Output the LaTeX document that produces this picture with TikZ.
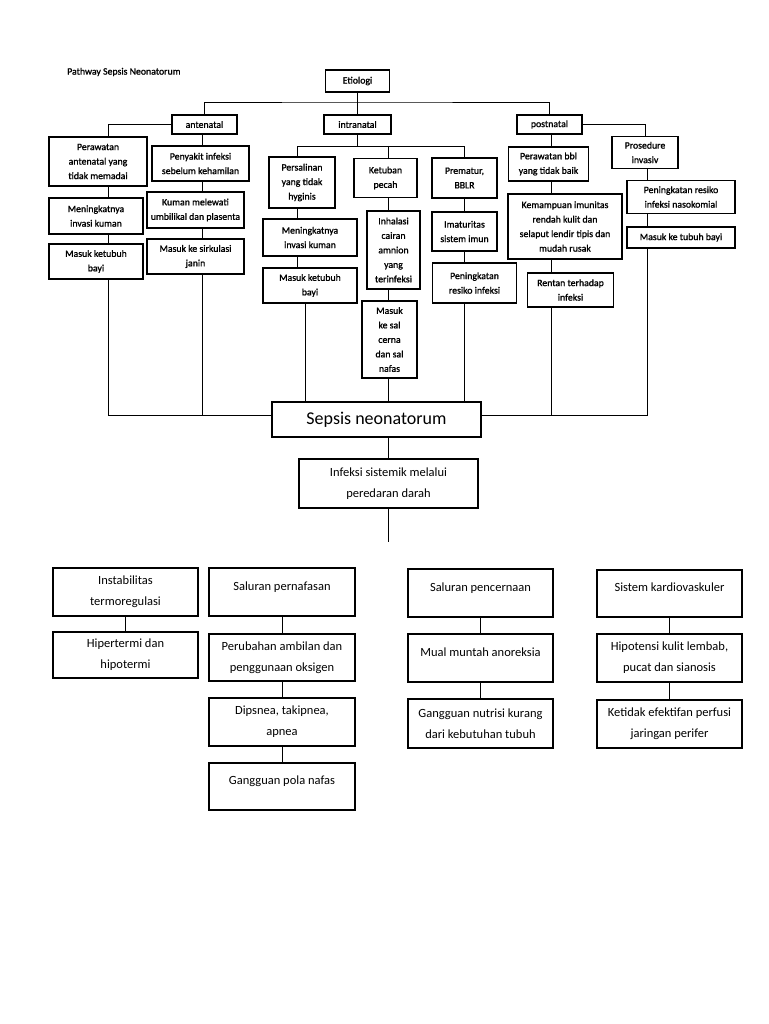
\documentclass[tikz,border=0pt]{standalone}
\usepackage{fontspec}
\setmainfont{Carlito}
\newfontfamily\tebal[FakeBold=1.2]{Carlito}
\begin{document}
\begin{tikzpicture}[x=1pt,y=-1pt,
	kotak/.style={draw,line width=1.5pt,align=center,inner sep=1pt,font=\tebal\fontsize{9.8}{14.5}\selectfont},
	kotakbesar/.style={draw,line width=1.5pt,align=center,inner sep=1pt,font=\fontsize{12.5}{21}\selectfont},
	naik/.style={text depth=12pt},
	garis/.style={line width=0.8pt}]
	\useasboundingbox (0,0) rectangle (768,1024);
	\node[anchor=west,inner sep=0pt,font=\tebal\fontsize{9.8}{12}\selectfont] (judul) at (67,72) {Pathway Sepsis Neonatorum};
	% etiologi
	\node[kotak,minimum width=64,minimum height=22] (etiologi) at (357.5,81) {Etiologi};
	\node[kotak,minimum width=65,minimum height=19] (ante) at (204.5,124.5) {antenatal};
	\node[kotak,minimum width=67,minimum height=19] (intra) at (357.5,124.5) {intranatal};
	\node[kotak,minimum width=65,minimum height=19] (post) at (549.5,124.5) {postnatal};
	% antenatal
	\node[kotak,minimum width=98,minimum height=49] (pa1) at (98,161.5) {Perawatan\\antenatal yang\\tidak memadai};
	\node[kotak,minimum width=94,minimum height=36] (pa2) at (96,216) {Meningkatnya\\invasi kuman};
	\node[kotak,minimum width=94,minimum height=35] (pa3) at (96,261.5) {Masuk ketubuh\\bayi};
	\node[kotak,minimum width=97,minimum height=35] (pb1) at (200.5,163.5) {Penyakit infeksi\\sebelum kehamilan};
	\node[kotak,minimum width=97,minimum height=36] (pb2) at (195.5,210) {Kuman melewati\\umbilikal dan plasenta};
	\node[kotak,minimum width=97,minimum height=35] (pb3) at (195.5,256.5) {Masuk ke sirkulasi\\janin};
	% intranatal
	\node[kotak,minimum width=66,minimum height=51] (pc1) at (302,182.5) {Persalinan\\yang tidak\\hyginis};
	\node[kotak,minimum width=94,minimum height=37] (pc2) at (310,237.5) {Meningkatnya\\invasi kuman};
	\node[kotak,minimum width=94,minimum height=35] (pc3) at (310,285.5) {Masuk ketubuh\\bayi};
	\node[kotak,minimum width=63,minimum height=39] (pd1) at (385.5,178) {Ketuban\\pecah};
	\node[kotak,minimum width=53,minimum height=78] (pd2) at (393.5,250) {Inhalasi\\cairan\\amnion\\yang\\terinfeksi};
	\node[kotak,minimum width=55,minimum height=77] (pd3) at (389.5,339.5) {Masuk\\ke sal\\cerna\\dan sal\\nafas};
	\node[kotak,minimum width=65,minimum height=40] (pe1) at (464.5,178) {Prematur,\\BBLR};
	\node[kotak,minimum width=65,minimum height=39] (pe2) at (464.5,231.5) {Imaturitas\\sistem imun};
	\node[kotak,minimum width=84,minimum height=40] (pe3) at (474.5,283) {Peningkatan\\resiko infeksi};
	% postnatal
	\node[kotak,minimum width=80,minimum height=34] (pf1) at (548.5,164) {Perawatan bbl\\yang tidak baik};
	\node[kotak,minimum width=114,minimum height=65] (pf2) at (565,226.5) {Kemampuan imunitas\\rendah kulit dan\\selaput lendir tipis dan\\mudah rusak};
	\node[kotak,minimum width=86,minimum height=34] (pf3) at (570.5,290) {Rentan terhadap\\infeksi};
	\node[kotak,minimum width=66,minimum height=32] (pg1) at (645,152.5) {Prosedure\\invasiv};
	\node[kotak,minimum width=108,minimum height=33] (pg2) at (681,197) {Peningkatan resiko\\infeksi nasokomial};
	\node[kotak,minimum width=108,minimum height=21] (pg3) at (681,237.5) {Masuk ke tubuh bayi};
	% sepsis
	\node[draw,line width=1.5pt,minimum width=209,minimum height=35,inner sep=1pt,font=\fontsize{18}{22}\selectfont] (sepsis) at (376.5,419.5) {Sepsis neonatorum};
	\node[kotakbesar,minimum width=179,minimum height=49] (infeksi) at (388.5,483.5) {Infeksi sistemik melalui\\peredaran darah};
	% bawah
	\node[kotakbesar,minimum width=145,minimum height=48] (inst) at (125.5,592) {Instabilitas\\termoregulasi};
	\node[kotakbesar,minimum width=145,minimum height=46] (hiper) at (125.5,655) {Hipertermi dan\\hipotermi};
	\node[kotakbesar,naik,minimum width=146,minimum height=48] (salnaf) at (282,592) {Saluran pernafasan};
	\node[kotakbesar,minimum width=146,minimum height=47] (perub) at (282,657.5) {Perubahan ambilan dan\\penggunaan oksigen};
	\node[kotakbesar,minimum width=146,minimum height=48] (dips) at (282,722) {Dipsnea, takipnea,\\apnea};
	\node[kotakbesar,naik,minimum width=146,minimum height=47] (gpn) at (282,786.5) {Gangguan pola nafas};
	\node[kotakbesar,naik,minimum width=145,minimum height=48] (salcer) at (480.5,593) {Saluran pencernaan};
	\node[kotakbesar,naik,minimum width=145,minimum height=48] (mual) at (480.5,658) {Mual muntah anoreksia};
	\node[kotakbesar,minimum width=145,minimum height=49] (gnut) at (480.5,723.5) {Gangguan nutrisi kurang\\dari kebutuhan tubuh};
	\node[kotakbesar,naik,minimum width=145,minimum height=47] (sistem) at (669.5,593.5) {Sistem kardiovaskuler};
	\node[kotakbesar,minimum width=145,minimum height=48] (hipot) at (669.5,658) {Hipotensi kulit lembab,\\pucat dan sianosis};
	\node[kotakbesar,minimum width=145,minimum height=48] (ketidak) at (669.5,724) {Ketidak efektifan perfusi\\jaringan perifer};
	% garis
	\coordinate (cabang) at (357.5,102);
	\coordinate (cabang2) at (0,146);
	\coordinate (hb) at (0,415);
	\coordinate (xA) at (108,0);
	\coordinate (xB) at (202,0);
	\coordinate (xC) at (297,0);
	\coordinate (xC2) at (305,0);
	\coordinate (xD) at (388,0);
	\coordinate (xE) at (464,0);
	\coordinate (xF) at (551,0);
	\coordinate (xG) at (647,0);
	\coordinate (ujung) at (388.5,542);
	\draw[garis] (etiologi) -- (intra);
	\draw[garis] (ante.north) |- (cabang) -| (post.north);
	\draw[garis] (post.east) -| (pg1.north);
	\draw[garis] (ante.west) -| (xA |- pa1.north);
	\draw[garis] (xB |- ante.south) -- (xB |- pb1.north);
	\draw[garis] (xA |- pa1.south) -- (xA |- pa2.north);
	\draw[garis] (xA |- pa2.south) -- (xA |- pa3.north);
	\draw[garis] (xB |- pb1.south) -- (xB |- pb2.north);
	\draw[garis] (xB |- pb2.south) -- (xB |- pb3.north);
	\draw[garis] (intra) -- (intra |- cabang2);
	\draw[garis] (xC |- pc1.north) -- (xC |- cabang2) -- (xE |- cabang2) -- (xE |- pe1.north);
	\draw[garis] (xD |- cabang2) -- (xD |- pd1.north);
	\draw[garis] (xC |- pc1.south) -- (xC |- pc2.north);
	\draw[garis] (xC |- pc2.south) -- (xC |- pc3.north);
	\draw[garis] (xD |- pd1.south) -- (xD |- pd2.north);
	\draw[garis] (xD |- pd2.south) -- (xD |- pd3.north);
	\draw[garis] (xE |- pe1.south) -- (xE |- pe2.north);
	\draw[garis] (xE |- pe2.south) -- (xE |- pe3.north);
	\draw[garis] (xF |- post.south) -- (xF |- pf1.north);
	\draw[garis] (xF |- pf1.south) -- (xF |- pf2.north);
	\draw[garis] (xF |- pf2.south) -- (xF |- pf3.north);
	\draw[garis] (xG |- pg1.south) -- (xG |- pg2.north);
	\draw[garis] (xG |- pg2.south) -- (xG |- pg3.north);
	\draw[garis] (xA |- pa3.south) |- (sepsis.west |- hb);
	\draw[garis] (xB |- pb3.south) -- (xB |- hb);
	\draw[garis] (xC2 |- pc3.south) -- (xC2 |- sepsis.north);
	\draw[garis] (xD |- pd3.south) -- (xD |- sepsis.north);
	\draw[garis] (xE |- pe3.south) -- (xE |- sepsis.north);
	\draw[garis] (xF |- pf3.south) |- (sepsis.east |- hb);
	\draw[garis] (xG |- pg3.south) |- (sepsis.east |- hb);
	\draw[garis] (infeksi |- sepsis.south) -- (infeksi);
	\draw[garis] (infeksi) -- (ujung);
	\draw[garis] (inst) -- (hiper);
	\draw[garis] (salnaf) -- (perub);
	\draw[garis] (perub) -- (dips);
	\draw[garis] (dips) -- (gpn);
	\draw[garis] (salcer) -- (mual);
	\draw[garis] (mual) -- (gnut);
	\draw[garis] (sistem) -- (hipot);
	\draw[garis] (hipot) -- (ketidak);
\end{tikzpicture}
\end{document}
